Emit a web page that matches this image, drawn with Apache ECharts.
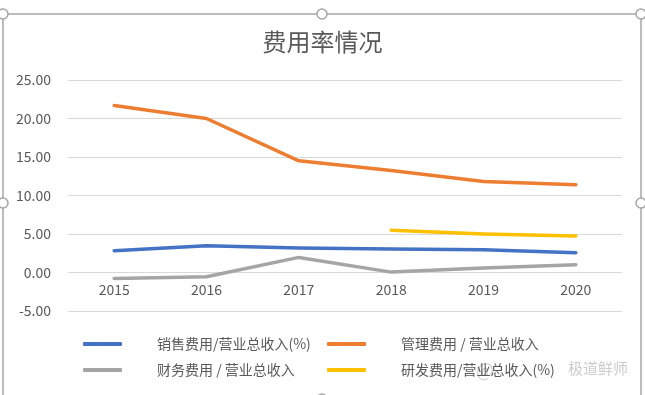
<!DOCTYPE html>
<html>
<head>
    <meta charset="utf-8">
    <title>费用率情况</title>
    <style>
        html, body { margin: 0; padding: 0; background: #fff; }
        #main { width: 645px; height: 395px; }
    </style>
</head>
<body>
    <div id="main"></div>
    <script src="https://cdn.jsdelivr.net/npm/echarts@6/dist/echarts.min.js"></script>
    <script>
    // 年份
    var years = ['2015', '2016', '2017', '2018', '2019', '2020'];
    // 各项费用率
    var saleData = [2.83, 3.48, 3.18, 3.05, 2.96, 2.57];      // 销售费用/营业总收入(%)
    var manageData = [21.7, 20.0, 14.5, 13.26, 11.83, 11.4];  // 管理费用 / 营业总收入
    var financeData = [-0.78, -0.56, 1.96, 0.05, 0.57, 1.0];  // 财务费用 / 营业总收入
    var rdData = [null, null, null, 5.5, 5.0, 4.75];          // 研发费用/营业总收入(%)

    var names = ['销售费用/营业总收入(%)', '管理费用 / 营业总收入', '财务费用 / 营业总收入', '研发费用/营业总收入(%)'];
    var yTicks = { min: -5, max: 25, interval: 5 };

    var font = '"Noto Sans CJK SC", "Noto Sans", sans-serif';

    function legendAt(left, items) {
        return {
            orient: 'vertical',
            left: left,
            top: 337,
            padding: 0,
            itemWidth: 39,
            itemHeight: 4,
            itemGap: 12,
            icon: 'roundRect',
            data: items,
            textStyle: { color: '#595959', fontSize: 14, fontFamily: font, padding: [0, 0, 0, 30] }
        };
    }

    function lineSeries(name, data, color) {
        return {
            name: name,
            type: 'line',
            data: data,
            symbol: 'none',
            connectNulls: false,
            lineStyle: { color: color, width: 3.5, cap: 'round', join: 'round' },
            itemStyle: { color: color }
        };
    }

    var chart = echarts.init(document.getElementById('main'));
    chart.setOption({
        animation: false,
        title: {
            text: '费用率情况',
            left: 'center',
            top: 25,
            textStyle: { color: '#595959', fontSize: 24, fontWeight: 'normal', fontFamily: font }
        },
        legend: [
            legendAt(83, [names[0], names[2]]),
            legendAt(327, [names[1], names[3]])
        ],
        grid: { left: 68, right: 23, top: 80, bottom: 84 },
        xAxis: {
            type: 'category',
            data: years,
            offset: -38.5,   // 标签贴着 0 线
            axisLine: { show: false, onZero: false },
            axisTick: { show: false },
            axisLabel: { color: '#595959', fontSize: 14, fontFamily: font, margin: 10 }
        },
        yAxis: {
            type: 'value',
            min: yTicks.min,
            max: yTicks.max,
            interval: yTicks.interval,
            axisLine: { show: false },
            axisTick: { show: false },
            axisLabel: {
                color: '#595959', fontSize: 14, fontFamily: font, margin: 17,
                formatter: function (v) { return v.toFixed(2); }
            },
            splitLine: { lineStyle: { color: '#d9d9d9', width: 1 } }
        },
        series: [
            lineSeries(names[0], saleData, '#4472C4'),
            lineSeries(names[1], manageData, '#ED7D31'),
            lineSeries(names[2], financeData, '#A5A5A5'),
            lineSeries(names[3], rdData, '#FFC000')
        ],
        graphic: [
            // 外框及选中手柄
            { type: 'rect', shape: { x: 3, y: 14, width: 638, height: 400 }, style: { fill: 'none', stroke: '#a6a6a6', lineWidth: 1.5 }, z: -1 },
            { type: 'circle', shape: { cx: 3, cy: 14, r: 5 }, style: { fill: '#fff', stroke: '#a6a6a6', lineWidth: 1.5 } },
            { type: 'circle', shape: { cx: 322, cy: 14, r: 5 }, style: { fill: '#fff', stroke: '#a6a6a6', lineWidth: 1.5 } },
            { type: 'circle', shape: { cx: 641, cy: 14, r: 5 }, style: { fill: '#fff', stroke: '#a6a6a6', lineWidth: 1.5 } },
            { type: 'circle', shape: { cx: 3, cy: 203, r: 5 }, style: { fill: '#fff', stroke: '#a6a6a6', lineWidth: 1.5 } },
            { type: 'circle', shape: { cx: 641, cy: 203, r: 5 }, style: { fill: '#fff', stroke: '#a6a6a6', lineWidth: 1.5 } },
            { type: 'circle', shape: { cx: 322, cy: 399, r: 5 }, style: { fill: '#fff', stroke: '#a6a6a6', lineWidth: 1.5 } },
            // 水印
            { type: 'text', left: 476, top: 360, style: { text: '@', fill: 'rgba(190,190,190,0.7)', font: '19px ' + font } },
            { type: 'text', left: 568, top: 361, style: { text: '极道鲜师', fill: 'rgba(190,190,190,0.8)', font: '15px ' + font } }
        ]
    });
    </script>
</body>
</html>
